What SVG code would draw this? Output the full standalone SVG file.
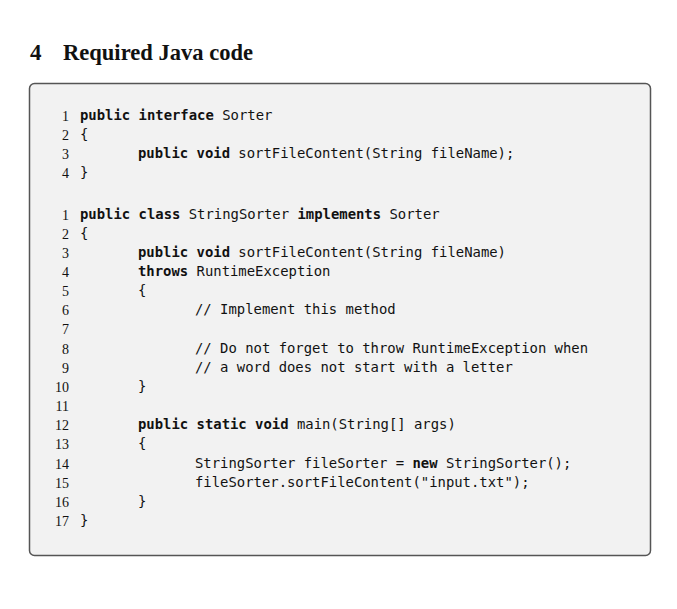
<svg xmlns="http://www.w3.org/2000/svg" width="677" height="609" viewBox="0 0 677 609">
<style>
.c{font-family:"DejaVu Sans Mono",monospace;font-size:13.9px;fill:#111;white-space:pre}
.b{font-weight:bold}
.n{font-family:"Liberation Serif",serif;font-size:14px;fill:#111;text-anchor:end}
</style>
<rect width="677" height="609" fill="#fff"/>
<text x="30" y="60" font-family="Liberation Serif,serif" font-size="23" font-weight="bold" fill="#111">4</text>
<text x="63" y="60" font-family="Liberation Serif,serif" font-size="23" font-weight="bold" fill="#111" textLength="190" lengthAdjust="spacingAndGlyphs">Required Java code</text>
<rect x="29.5" y="83.5" width="621" height="472" rx="5" fill="#f2f2f2" stroke="#555" stroke-width="1.5"/>
<g class="n">
<text x="69" y="121">1</text><text x="69" y="140">2</text><text x="69" y="159">3</text><text x="69" y="178">4</text>
<text x="69" y="220">1</text><text x="69" y="239">2</text><text x="69" y="258">3</text><text x="69" y="277">4</text><text x="69" y="296">5</text><text x="69" y="315">6</text><text x="69" y="334">7</text><text x="69" y="354">8</text><text x="69" y="373">9</text><text x="69" y="392">10</text><text x="69" y="411">11</text><text x="69" y="430">12</text><text x="69" y="449">13</text><text x="69" y="469">14</text><text x="69" y="488">15</text><text x="69" y="507">16</text><text x="69" y="526">17</text>
</g>
<g class="c">
<text x="80" y="120"><tspan class="b">public interface</tspan> Sorter</text>
<text x="80" y="139">{</text>
<text x="138" y="158"><tspan class="b">public void</tspan> sortFileContent(String fileName);</text>
<text x="80" y="177">}</text>
<text x="80" y="219"><tspan class="b">public class</tspan> StringSorter <tspan class="b">implements</tspan> Sorter</text>
<text x="80" y="238">{</text>
<text x="138" y="257"><tspan class="b">public void</tspan> sortFileContent(String fileName)</text>
<text x="138" y="276"><tspan class="b">throws</tspan> RuntimeException</text>
<text x="138" y="295">{</text>
<text x="195" y="314">// Implement this method</text>
<text x="195" y="353">// Do not forget to throw RuntimeException when</text>
<text x="195" y="372">// a word does not start with a letter</text>
<text x="138" y="391">}</text>
<text x="138" y="429"><tspan class="b">public static void</tspan> main(String[] args)</text>
<text x="138" y="448">{</text>
<text x="195" y="468">StringSorter fileSorter = <tspan class="b">new</tspan> StringSorter();</text>
<text x="195" y="487">fileSorter.sortFileContent("input.txt");</text>
<text x="138" y="506">}</text>
<text x="80" y="525">}</text>
</g>
</svg>
